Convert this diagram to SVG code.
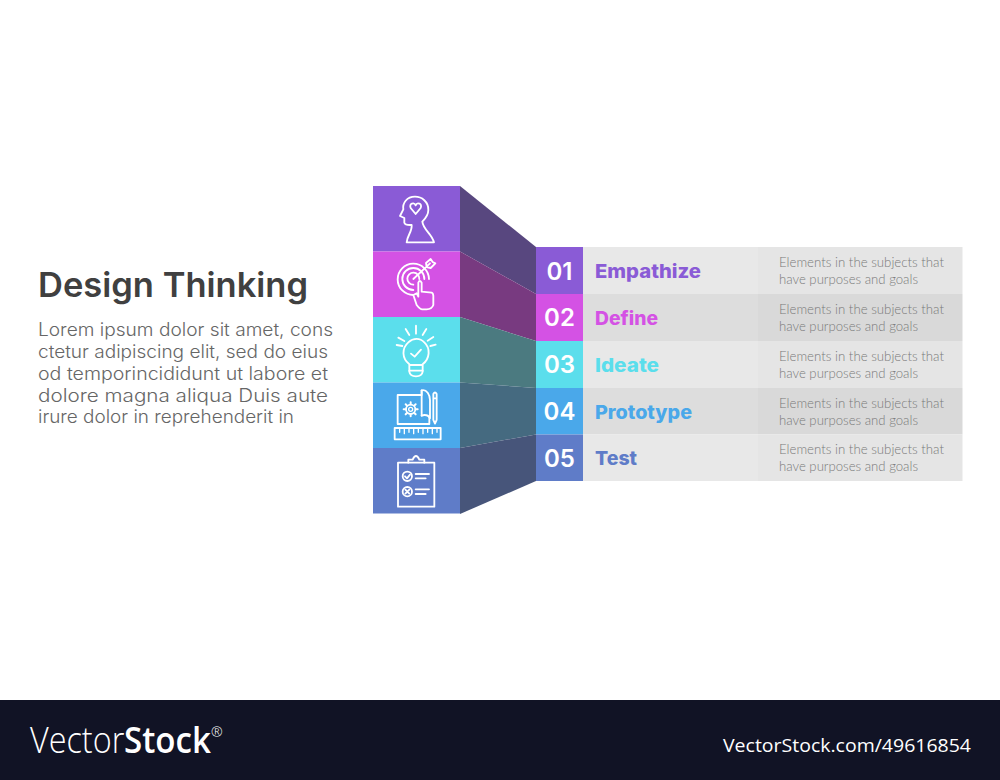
<svg xmlns="http://www.w3.org/2000/svg" width="1000" height="780" viewBox="0 0 1000 780">
<style>
.ic{fill:none;stroke:#fff;stroke-width:5.5;stroke-linejoin:round;stroke-linecap:round}
.num{font-family:"Inter","Liberation Sans",sans-serif;font-weight:600;font-size:24px;fill:#fff;text-anchor:middle}
.lab{font-family:"Inter","Liberation Sans",sans-serif;font-weight:800;font-size:19px}
.desc{font-family:"Lato","Liberation Sans",sans-serif;font-weight:300;font-size:14px;fill:#7a7a7a}
.body{font-family:"Inter","Liberation Sans",sans-serif;font-weight:300;font-size:18px;fill:#666}
</style>
<rect width="1000" height="780" fill="#fff"/>
<g id="title">
<text x="38" y="297" font-family="Inter,'Liberation Sans',sans-serif" font-weight="600" font-size="34" fill="#404040" textLength="270" lengthAdjust="spacingAndGlyphs">Design Thinking</text>
<text class="body" x="38" y="336" textLength="295" lengthAdjust="spacingAndGlyphs">Lorem ipsum dolor sit amet, cons</text>
<text class="body" x="38" y="358" textLength="290" lengthAdjust="spacingAndGlyphs">ctetur adipiscing elit, sed do eius</text>
<text class="body" x="38" y="380" textLength="290" lengthAdjust="spacingAndGlyphs">od temporincididunt ut labore et</text>
<text class="body" x="38" y="402" textLength="290" lengthAdjust="spacingAndGlyphs">dolore magna aliqua Duis aute</text>
<text class="body" x="38" y="423" textLength="256" lengthAdjust="spacingAndGlyphs">irure dolor in reprehenderit in</text>
</g>
<g id="connectors">
<polygon points="460,186 536,247 536,294 460,251.5" fill="#58477f"/>
<polygon points="460,251.5 536,294 536,341 460,317" fill="#783a80"/>
<polygon points="460,317 536,341 536,388 460,382.5" fill="#4b7a80"/>
<polygon points="460,382.5 536,388 536,434.5 460,448" fill="#456a80"/>
<polygon points="460,448 536,434.5 536,481 460,514" fill="#47557a"/>
</g>
<g id="step-1">
<rect x="373" y="186" width="87" height="65.5" fill="#8a5bd6"/>
<g class="ic" transform="translate(365 180) scale(.3333)">
<path d="M125,187H207C200,160 175,150 172,125C182,115 190,105 190,90C191,65 170,50 150,50C125,50 112,70 115,88L105,108L118,114V128Q120,135 135,135H140C142,155 127,165 125,187Z"/>
<path d="M152,102L137,84C131,70 148,66 152,76C156,66 173,70 167,84Z"/>
</g>
</g>
<g id="step-2">
<rect x="373" y="251.500" width="87" height="65.500" fill="#d452e4"/>
<g class="ic" transform="translate(365 180) scale(.3333)">
<path d="M145,345A47,47 0 1 1 192,297"/>
<path d="M145,330A33,33 0 1 1 178,297"/>
<path d="M145,314A18,18 0 1 1 163,297"/>
<path d="M145,297L195,250M183,249L197,237L203,246L211,250L197,264L185,261Z"/>
<path d="M155,375L145,345L155,340L160,350V308Q164,298 170,308V335L200,338Q206,340 205,355V375Q200,388 185,388H172Q165,388 155,375Z"/>
</g>
</g>
<g id="step-3">
<rect x="373" y="317" width="87" height="65.500" fill="#5bdeec"/>
<g class="ic" transform="translate(365 315) scale(.3333)">
<path d="M133,148C110,130 110,100 130,82C145,68 165,68 178,82C197,100 195,130 173,148V167H133Z"/>
<path d="M133,167V170Q135,184 153,184Q171,184 173,170V167M135,150H171"/>
<path d="M138,116L149,125L168,104"/>
<path d="M153,32V56M122,42L133,60M184,42L173,60M100,68L118,78M205,66L188,77M95,90L112,93M212,89L196,93"/>
</g>
</g>
<g id="step-4">
<rect x="373" y="382.500" width="87" height="65.500" fill="#4aa8ea"/>
<g class="ic" transform="translate(365 315) scale(.3333)">
<path d="M170,240H98V327H193V310C193,300 178,298 170,302M170,240V226C185,222 195,240 195,255V310"/>
<path d="M170,226V302"/>
<circle cx="137" cy="283" r="14"/>
<circle cx="137" cy="283" r="6" stroke-width="4"/>
<path d="M137,262V268M137,298V304M116,283H122M152,283H158M122,268L126,272M152,268L148,272M122,298L126,294M152,298L148,294" stroke-width="6"/>
<path d="M205,237Q210,228 215,237V315L210,326L205,315ZM205,250H215"/>
<rect x="89" y="339" width="138" height="34"/>
<path d="M104,339V352M118,339V356M132,339V352M146,339V356M160,339V352M174,339V356M188,339V352M202,339V356M216,339V352" stroke-width="4"/>
</g>
</g>
<g id="step-5">
<rect x="373" y="448" width="87" height="65.500" fill="#5f7cc8"/>
<g class="ic" transform="translate(365 315) scale(.3333)">
<path d="M130,443H99V575H208V443H178"/>
<path d="M130,443H178V434H163Q158,423 153,423Q148,423 143,434H130Z"/>
<circle cx="127" cy="484" r="14"/><path d="M120,484L126,490L135,479"/>
<circle cx="127" cy="530" r="14"/><path d="M121,524L133,536M133,524L121,536"/>
<path d="M152,477H192M152,490H182M152,523H192M152,537H182"/>
</g>
</g>
<g id="row-1">
<rect x="583" y="247" width="175" height="47" fill="#e8e8e8"/><rect x="758" y="247" width="204.500" height="47" fill="#e5e5e5"/>
<rect x="536" y="247" width="47" height="47" fill="#8a5bd6"/>
<text class="num" x="559.500" y="280">01</text>
<text class="lab" x="595" y="278" fill="#8a5bd6" textLength="106" lengthAdjust="spacingAndGlyphs">Empathize</text>
<text class="desc" x="779" y="267" textLength="165" lengthAdjust="spacingAndGlyphs">Elements in the subjects that</text>
<text class="desc" x="779" y="284" textLength="139" lengthAdjust="spacingAndGlyphs">have purposes and goals</text>
</g>
<g id="row-2">
<rect x="583" y="294" width="175" height="47" fill="#dddddd"/><rect x="758" y="294" width="204.500" height="47" fill="#d9d9d9"/>
<rect x="536" y="294" width="47" height="47" fill="#d452e4"/>
<text class="num" x="559.500" y="326">02</text>
<text class="lab" x="595" y="325" fill="#d452e4" textLength="63" lengthAdjust="spacingAndGlyphs">Define</text>
<text class="desc" x="779" y="314" textLength="165" lengthAdjust="spacingAndGlyphs">Elements in the subjects that</text>
<text class="desc" x="779" y="331" textLength="139" lengthAdjust="spacingAndGlyphs">have purposes and goals</text>
</g>
<g id="row-3">
<rect x="583" y="341" width="175" height="47" fill="#e8e8e8"/><rect x="758" y="341" width="204.500" height="47" fill="#e5e5e5"/>
<rect x="536" y="341" width="47" height="47" fill="#5bdeec"/>
<text class="num" x="559.500" y="373">03</text>
<text class="lab" x="595" y="372" fill="#5bdeec" textLength="64" lengthAdjust="spacingAndGlyphs">Ideate</text>
<text class="desc" x="779" y="361" textLength="165" lengthAdjust="spacingAndGlyphs">Elements in the subjects that</text>
<text class="desc" x="779" y="378" textLength="139" lengthAdjust="spacingAndGlyphs">have purposes and goals</text>
</g>
<g id="row-4">
<rect x="583" y="388" width="175" height="46.500" fill="#dddddd"/><rect x="758" y="388" width="204.500" height="46.500" fill="#d9d9d9"/>
<rect x="536" y="388" width="47" height="46.500" fill="#4aa8ea"/>
<text class="num" x="559.500" y="420">04</text>
<text class="lab" x="595" y="419" fill="#4aa8ea" textLength="97" lengthAdjust="spacingAndGlyphs">Prototype</text>
<text class="desc" x="779" y="408" textLength="165" lengthAdjust="spacingAndGlyphs">Elements in the subjects that</text>
<text class="desc" x="779" y="425" textLength="139" lengthAdjust="spacingAndGlyphs">have purposes and goals</text>
</g>
<g id="row-5">
<rect x="583" y="434.500" width="175" height="46.500" fill="#e8e8e8"/><rect x="758" y="434.500" width="204.500" height="46.500" fill="#e5e5e5"/>
<rect x="536" y="434.500" width="47" height="46.500" fill="#5f7cc8"/>
<text class="num" x="559.500" y="467">05</text>
<text class="lab" x="595" y="465" fill="#5f7cc8" textLength="42" lengthAdjust="spacingAndGlyphs">Test</text>
<text class="desc" x="779" y="454" textLength="165" lengthAdjust="spacingAndGlyphs">Elements in the subjects that</text>
<text class="desc" x="779" y="471" textLength="139" lengthAdjust="spacingAndGlyphs">have purposes and goals</text>
</g>
<g id="footer">
<rect x="0" y="700" width="1000" height="80" fill="#111325"/>
<text transform="translate(30 753) scale(.9 1)" font-family="'Open Sans','Liberation Sans',sans-serif" font-size="36" font-weight="300" fill="#fff">Vector</text>
<text transform="translate(124 753) scale(.92 1)" font-family="'Open Sans','Liberation Sans',sans-serif" font-size="36" font-weight="600" fill="#fff">Stock</text>
<text x="211" y="737" font-family="'Open Sans','Liberation Sans',sans-serif" font-size="14" font-weight="300" fill="#fff">®</text>
<text x="723" y="752" font-family="'Open Sans','Liberation Sans',sans-serif" font-weight="400" font-size="19" fill="#fff" textLength="248" lengthAdjust="spacingAndGlyphs">VectorStock.com/49616854</text>
</g>
</svg>
